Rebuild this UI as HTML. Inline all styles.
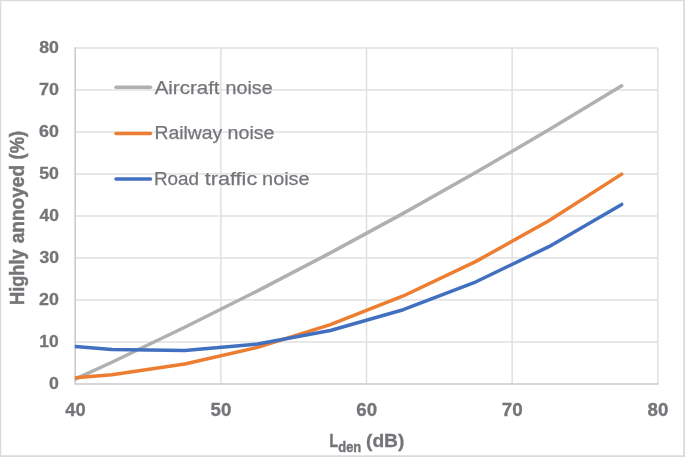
<!DOCTYPE html>
<html><head><meta charset="utf-8"><title>Noise annoyance chart</title>
<style>
html,body{margin:0;padding:0;background:#fff;}
body{width:685px;height:457px;overflow:hidden;}
svg{display:block;}
text{font-family:"Liberation Sans",sans-serif;fill:#747579;stroke:#747579;}
.ay{font-weight:bold;font-size:16.4px;stroke-width:0.3px;}
.ax{font-weight:bold;font-size:17.8px;stroke-width:0.3px;}
.lg{font-size:18.9px;stroke-width:0.25px;}
.yt{font-weight:bold;font-size:20.3px;stroke-width:0.45px;}
.tt{font-weight:bold;font-size:19.0px;stroke-width:0.3px;}
.ts{font-weight:bold;font-size:15.0px;stroke-width:0.5px;}
.tl{font-weight:bold;font-size:19.0px;stroke-width:0.7px;}
</style></head><body>
<svg width="685" height="457" viewBox="0 0 685 457">
<defs><clipPath id="plot"><rect x="74.85" y="40" width="600" height="352"/></clipPath></defs>
<rect x="0" y="0" width="685" height="457" fill="#fff"/>
<path d="M0 0H685V457H0Z M1.25 1.25V455.2H683.2V1.25Z" fill="#dadbde" fill-rule="evenodd"/>
<g stroke="#dfe0e3" stroke-width="1.5" fill="none">
<line x1="75.2" y1="342.0" x2="657.8" y2="342.0"/>
<line x1="75.2" y1="300.0" x2="657.8" y2="300.0"/>
<line x1="75.2" y1="258.0" x2="657.8" y2="258.0"/>
<line x1="75.2" y1="216.0" x2="657.8" y2="216.0"/>
<line x1="75.2" y1="174.0" x2="657.8" y2="174.0"/>
<line x1="75.2" y1="132.0" x2="657.8" y2="132.0"/>
<line x1="75.2" y1="90.0" x2="657.8" y2="90.0"/>
<line x1="75.2" y1="48.0" x2="657.8" y2="48.0"/>
<line x1="220.85" y1="48.0" x2="220.85" y2="384.0"/>
<line x1="366.50" y1="48.0" x2="366.50" y2="384.0"/>
<line x1="512.15" y1="48.0" x2="512.15" y2="384.0"/>
<line x1="657.80" y1="48.0" x2="657.80" y2="384.0"/>
</g>
<g stroke="#c9cacf" stroke-width="1.6" fill="none">
<path d="M75.2 47.3 V384.0 H658.5"/></g>
<g>
<text class="ay" x="49.12" y="389.30" textLength="9.86" lengthAdjust="spacingAndGlyphs">0</text>
<text class="ay" x="39.24" y="347.30" textLength="19.41" lengthAdjust="spacingAndGlyphs">10</text>
<text class="ay" x="39.12" y="305.30" textLength="19.84" lengthAdjust="spacingAndGlyphs">20</text>
<text class="ay" x="39.40" y="263.30" textLength="19.56" lengthAdjust="spacingAndGlyphs">30</text>
<text class="ay" x="39.53" y="221.30" textLength="19.42" lengthAdjust="spacingAndGlyphs">40</text>
<text class="ay" x="39.26" y="179.30" textLength="19.70" lengthAdjust="spacingAndGlyphs">50</text>
<text class="ay" x="39.12" y="137.30" textLength="19.84" lengthAdjust="spacingAndGlyphs">60</text>
<text class="ay" x="38.98" y="95.30" textLength="19.99" lengthAdjust="spacingAndGlyphs">70</text>
<text class="ay" x="39.26" y="53.30" textLength="19.70" lengthAdjust="spacingAndGlyphs">80</text>
</g>
<g>
<text class="ax" x="65.39" y="416.40" textLength="20.36" lengthAdjust="spacingAndGlyphs">40</text>
<text class="ax" x="210.64" y="416.40" textLength="20.78" lengthAdjust="spacingAndGlyphs">50</text>
<text class="ax" x="356.29" y="416.40" textLength="20.78" lengthAdjust="spacingAndGlyphs">60</text>
<text class="ax" x="501.81" y="416.40" textLength="20.92" lengthAdjust="spacingAndGlyphs">70</text>
<text class="ax" x="647.59" y="416.40" textLength="20.78" lengthAdjust="spacingAndGlyphs">80</text>
</g>
<g fill="none" stroke-width="3.5" stroke-linecap="round" stroke-linejoin="round" clip-path="url(#plot)">
<polyline stroke="#b0b0b2" points="75.20,379.16 111.91,362.25 184.74,327.29 257.56,290.82 330.39,252.83 403.21,213.34 476.04,172.33 548.86,129.81 621.69,85.77"/>
<polyline stroke="#ed7d31" points="75.20,377.81 111.91,374.71 184.74,364.00 257.56,347.32 330.39,324.65 403.21,295.99 476.04,261.35 548.86,220.72 621.69,174.11"/>
<polyline stroke="#4270c0" points="75.20,346.50 111.91,349.60 184.74,350.40 257.56,344.02 330.39,330.46 403.21,309.72 476.04,281.79 548.86,246.68 621.69,204.39"/>
</g>
<g fill="none" stroke-width="3.5" stroke-linecap="round">
<line x1="116" y1="87.2" x2="150.5" y2="87.2" stroke="#b0b0b2"/>
<line x1="116" y1="133.4" x2="150.5" y2="133.4" stroke="#ed7d31"/>
<line x1="116" y1="179.1" x2="150.5" y2="179.1" stroke="#4270c0"/>
</g>
<g>
<text class="lg" x="154.66" y="93.55" textLength="64.86" lengthAdjust="spacingAndGlyphs">Aircraft</text>
<text class="lg" x="225.60" y="93.55" textLength="47.03" lengthAdjust="spacingAndGlyphs">noise</text>
<text class="lg" x="154.57" y="139.35" textLength="67.68" lengthAdjust="spacingAndGlyphs">Railway</text>
<text class="lg" x="227.50" y="139.35" textLength="47.03" lengthAdjust="spacingAndGlyphs">noise</text>
<text class="lg" x="154.00" y="185.15" textLength="45.07" lengthAdjust="spacingAndGlyphs">Road</text>
<text class="lg" x="204.81" y="185.15" textLength="52.42" lengthAdjust="spacingAndGlyphs">traffic</text>
<text class="lg" x="262.08" y="185.15" textLength="47.55" lengthAdjust="spacingAndGlyphs">noise</text>
</g>
<g transform="translate(24.2,0) rotate(-90)">
<text class="yt" x="-305.04" y="0.00" textLength="55.73" lengthAdjust="spacingAndGlyphs">Highly</text>
<text class="yt" x="-243.29" y="0.00" textLength="78.31" lengthAdjust="spacingAndGlyphs">annoyed</text>
<text class="yt" x="-159.41" y="0.00" textLength="28.55" lengthAdjust="spacingAndGlyphs">(%)</text>
</g>
<g>
<text class="tl" x="329.40" y="447.40" textLength="8.33" lengthAdjust="spacingAndGlyphs">L</text>
<text class="ts" x="338.37" y="452.40" textLength="22.82" lengthAdjust="spacingAndGlyphs">den</text>
<text class="tt" x="365.99" y="447.40" textLength="38.41" lengthAdjust="spacingAndGlyphs">(dB)</text>
</g>
</svg>
</body></html>
